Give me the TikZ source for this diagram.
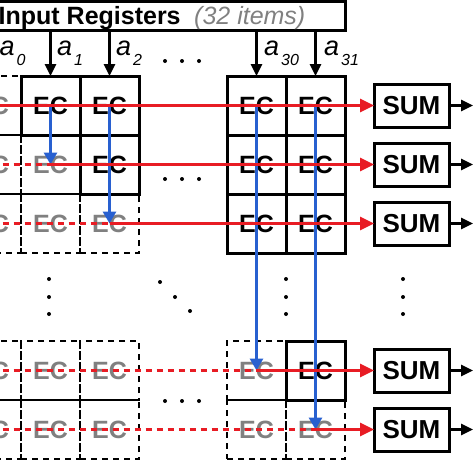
\documentclass[tikz,border=0pt]{standalone}
\usepackage{fontspec}
\setmainfont{Liberation Sans}
\usetikzlibrary{arrows.meta}
\definecolor{ecred}{RGB}{232,28,36}
\definecolor{ecblue}{RGB}{40,96,208}
\definecolor{ecgray}{RGB}{128,128,128}
\tikzset{
  cellbox/.style={draw=black, line width=3pt, minimum width=59pt, minimum height=59pt, inner sep=0pt, outer sep=0pt, font=\fontsize{25}{25}\selectfont\bfseries, text=black},
  ghostbox/.style={draw=black, line width=2.5pt, dash pattern=on 6pt off 5pt, minimum width=59pt, minimum height=59pt, inner sep=0pt, outer sep=0pt, font=\fontsize{25}{25}\selectfont\bfseries, text=ecgray},
  sumbox/.style={draw=black, line width=3pt, minimum width=75pt, minimum height=43pt, inner sep=0pt, outer sep=0pt, font=\fontsize{26}{26}\selectfont\bfseries},
  redline/.style={draw=ecred, line width=3pt},
  reddash/.style={draw=ecred, line width=3pt, dash pattern=on 6pt off 5pt},
  redarrow/.style={draw=ecred, line width=3pt, -{Triangle[length=14pt,width=13pt]}},
  bluearrow/.style={draw=ecblue, line width=3pt, -{Triangle[length=12pt,width=13pt]}},
  blackarrow/.style={draw=black, line width=2.5pt, -{Triangle[length=12pt,width=11pt]}},
  edot/.style={circle, fill=black, inner sep=0pt, minimum size=4pt},
  alabel/.style={anchor=base west, inner sep=0pt, font=\fontsize{27}{27}\selectfont\itshape},
  headtext/.style={anchor=base west, inner sep=0pt, font=\fontsize{25}{25}\selectfont\bfseries},
  headgray/.style={anchor=base west, inner sep=0pt, text=ecgray, font=\fontsize{25}{25}\selectfont\itshape},
}
\newcommand{\asub}[1]{a\kern2pt\raisebox{-10pt}{\fontsize{16}{16}\selectfont #1}}
\begin{document}
\begin{tikzpicture}[x=1pt,y=-1pt]
\useasboundingbox (0,0) rectangle (474,474);
\clip (0,0) rectangle (474,474);
% header
\node[draw=black, line width=3pt, minimum width=405pt, minimum height=29pt, inner sep=0pt, outer sep=0pt] (reg) at (142.5,16) {};
\node[headtext] (regtxt) at (-1.5,24) {Input Registers};
\node[headgray] (regnum) at (194,24) {(32 items)};
% ghost cells
\foreach \r/\y in {1/105.5,2/164.5,3/223.5,4/370.5,5/429.5}{
  \node[ghostbox] (r\r c0) at (-8.5,\y) {EC};
}
\foreach \r/\y in {2/164.5,3/223.5,4/370.5,5/429.5}{
  \node[ghostbox] (r\r c1) at (50.5,\y) {EC};
}
\foreach \r/\y in {3/223.5,4/370.5,5/429.5}{
  \node[ghostbox] (r\r c2) at (109.5,\y) {EC};
}
\node[ghostbox] (r4c30) at (256.5,370.5) {EC};
\node[ghostbox] (r5c30) at (256.5,429.5) {EC};
\node[ghostbox] (r5c31) at (315.5,429.5) {EC};
% solid cells
\node[cellbox] (r1c1) at (50.5,105.5) {EC};
\node[cellbox] (r1c2) at (109.5,105.5) {EC};
\node[cellbox] (r2c2) at (109.5,164.5) {EC};
\foreach \r/\y in {1/105.5,2/164.5,3/223.5}{
  \node[cellbox] (r\r c30) at (256.5,\y) {EC};
  \node[cellbox] (r\r c31) at (315.5,\y) {EC};
}
\node[cellbox] (r4c31) at (315.5,370.5) {EC};
% sums
\foreach \r/\y in {1/105.5,2/164.5,3/223.5,4/370.5,5/429.5}{
  \node[sumbox] (s\r) at (411.5,\y) {SUM};
  \coordinate (o\r) at (473,\y);
  \draw[blackarrow] (s\r.east) -- (o\r);
}
% input arrows and labels
\foreach \c in {0,1,2,30,31}{
  \draw[blackarrow] (reg.south -| r1c\c.center) -- (r1c\c.north);
}
\node[alabel] (la0) at (-0.5,55) {\asub{0}};
\node[alabel] (la1) at (57,55) {\asub{1}};
\node[alabel] (la2) at (116,55) {\asub{2}};
\node[alabel] (la30) at (264,55) {\asub{30}};
\node[alabel] (la31) at (324,55) {\asub{31}};
% blue arrows
\draw[bluearrow] (r1c1.center) -- (r2c1.center);
\draw[bluearrow] (r1c2.center) -- (r3c2.center);
\draw[bluearrow] (r1c30.center) -- (r4c30.center);
\draw[bluearrow] (r1c31.center) -- (r5c31.center);
% red lines
\draw[redarrow] (r1c0.center) -- (s1.west);
\draw[reddash] (r2c0.center) -- (r2c1.center);
\draw[redarrow] (r2c1.center) -- (s2.west);
\draw[reddash] (r3c0.center) -- (r3c2.center);
\draw[redarrow] (r3c2.center) -- (s3.west);
\draw[reddash] (r4c0.center) -- (r4c30.center);
\draw[redarrow] (r4c30.center) -- (s4.west);
\draw[reddash] (r5c0.center) -- (r5c31.center);
\draw[redarrow] (r5c31.center) -- (s5.west);
% ellipsis dots
\foreach \i/\x in {1/165,2/182,3/199}{
  \node[edot] (ht\i) at (\x,61) {};
  \node[edot] (hm\i) at (\x,179) {};
  \node[edot] (hb\i) at (\x,401) {};
}
\foreach \i/\y in {1/279,2/297,3/314}{
  \node[edot] (va\i) at (49,\y) {};
  \node[edot] (vb\i) at (286,\y) {};
  \node[edot] (vs\i) at (403,\y) {};
}
\node[edot] (d1) at (160,282) {};
\node[edot] (d2) at (175,297) {};
\node[edot] (d3) at (190,311) {};
\end{tikzpicture}
\end{document}
